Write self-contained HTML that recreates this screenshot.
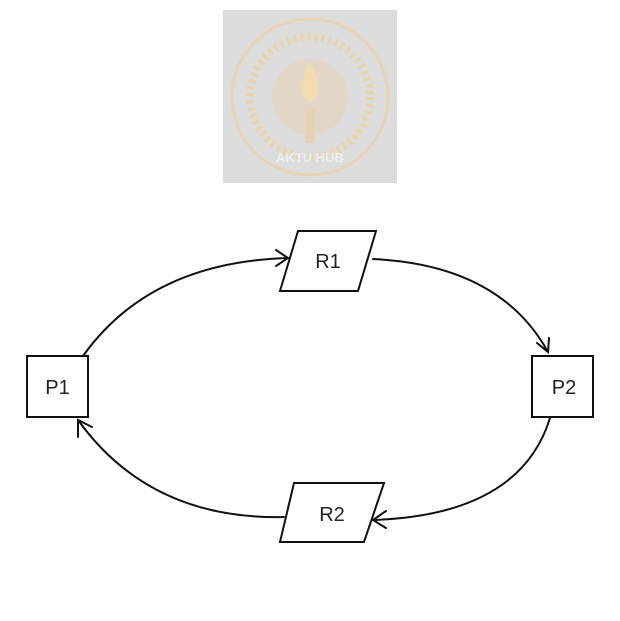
<!DOCTYPE html>
<html><head><style>
html,body{margin:0;padding:0;background:#fff;width:620px;height:621px;overflow:hidden}
</style></head><body>
<svg width="620" height="621" viewBox="0 0 620 621" xmlns="http://www.w3.org/2000/svg">
<rect x="223" y="10" width="174" height="173" fill="#dcdcdc"/>
<circle cx="310" cy="97" r="78" fill="none" stroke="#e6d2b4" stroke-width="3"/>
<circle cx="310" cy="97" r="60" fill="none" stroke="#e8d3a8" stroke-width="8" stroke-dasharray="3 4"/>
<circle cx="310" cy="97" r="38" fill="#e2d6c6"/>
<path d="M310 62 C300 80 298 95 310 102 C322 95 320 80 310 62Z" fill="#f2dcae"/>
<rect x="305" y="108" width="10" height="35" fill="#e6d2b4"/>
<text x="310" y="162" font-family="Liberation Sans, sans-serif" font-size="13" font-weight="bold" fill="#eeeeee" text-anchor="middle">AKTU HUB</text>
<g fill="#fff" stroke="#111" stroke-width="2">
<rect x="27" y="356" width="61" height="61"/>
<rect x="532" y="356" width="61" height="61"/>
<polygon points="298,231 376,231 358,291 280,291"/>
<polygon points="294,483 384,483 364,542 280,542"/>
</g>
<g font-family="Liberation Sans, sans-serif" font-size="20" fill="#222" text-anchor="middle">
<text x="57.5" y="394">P1</text>
<text x="564" y="394">P2</text>
<text x="328" y="268">R1</text>
<text x="332" y="521">R2</text>
</g>
<g fill="none" stroke="#111" stroke-width="2" stroke-linecap="round">
<path d="M83 356 Q150 262 288 258"/>
<path d="M276 250 L288 258 L276 266"/>
<path d="M373 259 Q500 265 548 352"/>
<path d="M537 343 L548 352 L549 338"/>
<path d="M550 418 Q520 515 373 520"/>
<path d="M386 511 L373 520 L386 528"/>
<path d="M284 517 Q150 520 78 420"/>
<path d="M78 437 L78 420 L92 427"/>
</g>
</svg>
</body></html>
